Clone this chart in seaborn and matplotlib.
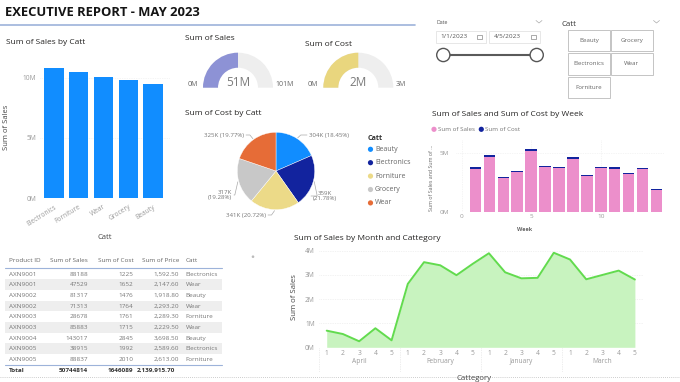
import numpy as np
import pandas as pd
import seaborn as sns
import matplotlib.pyplot as plt
from matplotlib import font_manager
from matplotlib.patches import Wedge, Rectangle, Circle

# ---- values ----
catt_order = ['Electronics', 'Forniture', 'Wear', 'Grocery', 'Beauty']
catt_sales = [10.85e6, 10.50e6, 10.05e6, 9.85e6, 9.50e6]

pie_catt = ['Beauty', 'Electronics', 'Forniture', 'Grocery', 'Wear']
pie_cost = [303703, 358518, 341070, 317366, 325432]

total_sales = 50744814
total_cost = 1646089
total_price = 2139915.70

weeks = list(range(1, 15))
week_sales = [3.68e6, 4.71e6, 2.86e6, 3.40e6, 5.18e6, 3.80e6, 3.74e6,
              4.51e6, 3.02e6, 3.74e6, 3.68e6, 3.19e6, 3.65e6, 1.90e6]
week_cost = [0.12e6, 0.15e6, 0.09e6, 0.11e6, 0.17e6, 0.12e6, 0.12e6,
             0.15e6, 0.10e6, 0.12e6, 0.12e6, 0.10e6, 0.12e6, 0.08e6]

months = ['April', 'February', 'January', 'March']
month_weeks = [1, 2, 3, 4, 5]
april_sales = [0.69e6, 0.55e6, 0.25e6, 0.79e6, 0.29e6]
february_sales = [2.63e6, 3.53e6, 3.40e6, 2.99e6, 3.46e6]
january_sales = [3.90e6, 3.11e6, 2.86e6, 2.88e6, 3.92e6]
march_sales = [3.64e6, 2.82e6, 3.00e6, 3.18e6, 2.81e6]

tbl_id = ['AXN9001', 'AXN9001', 'AXN9002', 'AXN9002', 'AXN9003',
          'AXN9003', 'AXN9004', 'AXN9005', 'AXN9005']
tbl_sales = [88188, 47529, 81317, 71313, 28678, 85883, 143017, 38915, 88837]
tbl_cost = [1225, 1652, 1476, 1764, 1761, 1715, 2845, 1992, 2010]
tbl_price = [1592.50, 2147.60, 1918.80, 2293.20, 2289.30, 2229.50, 3698.50, 2589.60, 2613.00]
tbl_catt = ['Electronics', 'Wear', 'Beauty', 'Wear', 'Forniture',
            'Wear', 'Beauty', 'Electronics', 'Forniture']

date_start = '1/1/2023'
date_end = '4/5/2023'
slicer_catt = ['Beauty', 'Grocery', 'Electronics', 'Wear', 'Forniture']

# ---- style ----
sns.set_theme(style='white')
plt.rcParams['font.family'] = ['Open Sans', 'DejaVu Sans']
names = {f.name for f in font_manager.fontManager.ttflist}
title_font = 'Liberation Sans Narrow' if 'Liberation Sans Narrow' in names else 'Open Sans'

pie_colors = ['#118DFF', '#12239E', '#ECDA88', '#C8C8C8', '#E66C37']
C_TITLE = '#252423'
C_AX = '#454545'
C_TICK = '#9A9A9A'
C_LINE = '#9DB3DA'

W, H = 680, 382
fig = plt.figure(figsize=(6.8, 3.82), dpi=100)


def box(x0, y0, x1, y1):
    return [x0 / W, 1 - y1 / H, (x1 - x0) / W, (y1 - y0) / H]


def fmt_m(v):
    return f'{v / 1e6:.0f}M'


def clean(ax):
    for s in ax.spines.values():
        s.set_visible(False)
    ax.set_facecolor('none')


# background layer in pixel coordinates (y down)
bg = fig.add_axes([0, 0, 1, 1])
bg.set_xlim(0, W)
bg.set_ylim(H, 0)
bg.axis('off')

bg.text(5, 12, 'EXECUTIVE REPORT - MAY 2023', family=title_font, fontsize=9.4,
        fontweight='bold', va='center', color='#141414')
bg.plot([0, 415], [25, 25], color=C_LINE, lw=1.2)

for tx, ty, t in [(6, 42, 'Sum of Sales by Catt'), (185, 38, 'Sum of Sales'),
                  (305, 44.5, 'Sum of Cost'), (185, 113.5, 'Sum of Cost by Catt'),
                  (432, 114, 'Sum of Sales and Sum of Cost by Week'),
                  (294, 238.5, 'Sum of Sales by Month and Cattegory')]:
    bg.text(tx, ty, t, fontsize=6.0, va='center', color=C_TITLE)

# ---- bar chart: sales by category ----
ax1 = fig.add_axes(box(40, 60, 170, 198))
df_c = pd.DataFrame({'Catt': catt_order, 'Sales': catt_sales})
sns.barplot(data=df_c, x='Catt', y='Sales', color='#118DFF', saturation=1,
            width=0.78, errorbar=None, linewidth=0, ax=ax1)
ax1.set_xlim(-0.57, 4.69)
ax1.set_ylim(0, 11.5e6)
ax1.set_yticks([0, 5e6, 10e6])
ax1.set_yticklabels([fmt_m(v) for v in [0, 5e6, 10e6]])
ax1.tick_params(axis='y', labelsize=4.8, colors=C_TICK, length=0, pad=2.5)
ax1.tick_params(axis='x', labelsize=4.8, colors=C_TICK, length=0, pad=4)
plt.setp(ax1.get_xticklabels(), rotation=32, ha='right', rotation_mode='anchor')
ax1.grid(axis='y', color='#EBEBEB', lw=0.5, ls=(0, (1, 1.5)))
ax1.set_axisbelow(True)
ax1.set_xlabel('Catt', fontsize=5.5, color=C_AX)
ax1.set_ylabel('Sum of Sales', fontsize=5.5, color=C_AX)
ax1.xaxis.set_label_coords(0.5, -0.26)
ax1.yaxis.set_label_coords(-0.23, 0.51)
clean(ax1)

# ---- gauges ----
def gauge(cx, value, vmax, color):
    cy = 87.7
    bg.add_patch(Wedge((cx, cy), 35, 180, 360, width=15, facecolor='#EEEEEE', lw=0))
    bg.add_patch(Wedge((cx, cy), 35, 180, 180 + 180 * value / vmax, width=15,
                       facecolor=color, lw=0))
    bg.text(cx, cy - 5.5, fmt_m(value), ha='center', va='center', fontsize=8.5, color='#7A7A7A')
    bg.text(cx - 40.5, cy - 3, '0M', ha='right', va='center', fontsize=5, color='#666666')
    bg.text(cx + 37, cy - 3, fmt_m(vmax), ha='left', va='center', fontsize=5, color='#666666')


gauge(238, total_sales, 2 * total_sales, '#8D92D5')
gauge(358.3, total_cost, 2 * total_cost, '#E9D67E')

# ---- pie: cost by category ----
pcx, pcy, pr = 276, 171, 38.7
axp = fig.add_axes(box(pcx - pr, pcy - pr, pcx + pr, pcy + pr))
axp.pie(pie_cost, colors=pie_colors, startangle=90, counterclock=False,
        wedgeprops=dict(linewidth=0.3, edgecolor='white'))
axp.set_xlim(-1, 1)
axp.set_ylim(-1, 1)
axp.set_aspect('equal')

pie_total = sum(pie_cost)
lbl_pos = [(309, 135, 'left'), (313, 196, 'left'), (266, 215, 'right'),
           (232, 195, 'right'), (244, 135, 'right')]
cum = 0
for v, (lx, ly, ha) in zip(pie_cost, lbl_pos):
    frac = v / pie_total
    ang = np.deg2rad(90 - 360 * (cum + frac / 2))
    cum += frac
    ex, ey = pcx + (pr + 1) * np.cos(ang), pcy - (pr + 1) * np.sin(ang)
    sgn = 1 if ha == 'left' else -1
    bg.plot([ex, ex + sgn * 3, lx - sgn * 2], [ey, ly, ly], color='#AAAAAA', lw=0.5)
    txt = f'{v / 1e3:.0f}K ({frac * 100:.2f}%)'
    if abs(np.cos(ang)) > 0.9:
        txt = txt.replace(' (', '\n(')
    bg.text(lx, ly, txt, ha=ha, va='center', fontsize=4.4, color='#777777',
            multialignment='center' if ha == 'left' else 'right', linespacing=1.2)

bg.text(367.5, 138.3, 'Catt', fontsize=5.2, fontweight='bold', va='center', color='#333333')
for i, (name, col) in enumerate(zip(pie_catt, pie_colors)):
    y = 149.3 + i * 13.4
    bg.add_patch(Circle((370.5, y), 2.6, color=col, lw=0))
    bg.text(375, y, name, va='center', fontsize=5, color='#666666')

# ---- slicers ----
bg.text(436.5, 23, 'Date', fontsize=3.8, va='center', color='#555555')
for chx in (539, 656.5):
    bg.plot([chx - 3, chx, chx + 3], [20.5, 23, 20.5], color='#AAAAAA', lw=0.5)
for x0, x1, d in [(435.7, 486, date_start), (488.5, 540, date_end)]:
    bg.add_patch(Rectangle((x0, 30.7), x1 - x0, 12.6, facecolor='white',
                           edgecolor='#E3E3E3', lw=0.6))
    bg.text(x0 + 5, 37, d, fontsize=4.6, va='center', color='#555555')
    bg.add_patch(Rectangle((x1 - 9, 34.5), 4.5, 4.2, facecolor='none',
                           edgecolor='#888888', lw=0.5))
bg.plot([443.3, 536.7], [55, 55], color='#5A5A5A', lw=1.5, zorder=2)
for sx in (443.3, 536.7):
    bg.add_patch(Circle((sx, 55), 6.6, facecolor='white', edgecolor='#555555', lw=1, zorder=3))

bg.text(561.5, 24.3, 'Catt', fontsize=5.6, va='center', color='#333333')
btn_cells = [(568.3, 30), (611, 30), (568.3, 53.3), (611, 53.3), (568.3, 77)]
for (bx, by), name in zip(btn_cells, slicer_catt):
    bg.add_patch(Rectangle((bx, by), 41.7, 21.3, facecolor='white', edgecolor='#C4C4C4', lw=0.7))
    bg.text(bx + 20.85, by + 10.65, name, ha='center', va='center', fontsize=4.4, color='#666666')

# ---- week chart: stacked sales + cost ----
bg.add_patch(Circle((434, 129.3), 2.6, color='#EC8FCB', lw=0))
bg.text(437.5, 129.3, 'Sum of Sales', fontsize=4.5, va='center', color='#777777')
bg.add_patch(Circle((481.3, 129.3), 2.6, color='#12239E', lw=0))
bg.text(485, 129.3, 'Sum of Cost', fontsize=4.5, va='center', color='#777777')

axw = fig.add_axes(box(456, 140, 664, 211.7))
df_w = pd.DataFrame({'Week': weeks, 'Sales': week_sales, 'Cost': week_cost})
df_w['Total'] = df_w['Sales'] + df_w['Cost']
sns.barplot(data=df_w, x='Week', y='Total', native_scale=True, color='#12239E',
            saturation=1, width=0.84, errorbar=None, linewidth=0, ax=axw)
sns.barplot(data=df_w, x='Week', y='Sales', native_scale=True, color='#EC8FCB',
            saturation=1, width=0.84, errorbar=None, linewidth=0, ax=axw)
axw.set_xlim(-0.41, 14.55)
axw.set_ylim(0, 6.14e6)
axw.set_xticks([0, 5, 10])
axw.set_xticklabels(['0', '5', '10'])
axw.set_yticks([0, 5e6])
axw.set_yticklabels(['0M', '5M'])
axw.tick_params(axis='y', labelsize=4.6, colors=C_TICK, length=0, pad=5)
axw.tick_params(axis='x', labelsize=4.6, colors=C_TICK, length=0, pad=1.8)
axw.grid(True, color='#EBEBEB', lw=0.5, ls=(0, (1, 1.5)))
axw.set_axisbelow(True)
axw.set_xlabel('Week', fontsize=4, fontweight='bold', color='#666666')
axw.set_ylabel('Sum of Sales and Sum of ...', fontsize=3.8, color='#666666')
axw.xaxis.set_label_coords(0.33, -0.21)
axw.yaxis.set_label_coords(-0.105, 0.47)
clean(axw)

# ---- area chart: sales by month and week ----
df_m = pd.DataFrame({
    'Month': np.repeat(months, len(month_weeks)),
    'Week': month_weeks * len(months),
    'Sales': april_sales + february_sales + january_sales + march_sales,
})
df_m['pos'] = np.arange(len(df_m))

axa = fig.add_axes(box(318.6, 246, 643, 347.3))
axa.fill_between(df_m['pos'], df_m['Sales'], color='#C8F3BF', lw=0)
sns.lineplot(data=df_m, x='pos', y='Sales', color='#62DB4E', lw=1.4, errorbar=None, ax=axa)
axa.set_xlim(-0.5, len(df_m) - 0.5)
axa.set_ylim(0, 4.2e6)
axa.set_yticks([0, 1e6, 2e6, 3e6, 4e6])
axa.set_yticklabels([fmt_m(v) for v in [0, 1e6, 2e6, 3e6, 4e6]])
axa.set_xticks(df_m['pos'])
axa.set_xticklabels(df_m['Week'].astype(str))
axa.tick_params(axis='y', labelsize=4.8, colors=C_TICK, length=0, pad=2.6)
axa.tick_params(axis='x', labelsize=4.8, colors=C_TICK, length=0, pad=1.6)
axa.grid(axis='y', color='#E6E6E6', lw=0.5, ls=(0, (1, 1.5)))
axa.set_axisbelow(True)
axa.set_xlabel('Cattegory', fontsize=5.6, color=C_AX)
axa.set_ylabel('Sum of Sales', fontsize=5.6, color=C_AX)
axa.xaxis.set_label_coords(0.48, -0.27)
axa.yaxis.set_label_coords(-0.062, 0.5)
trans = axa.get_xaxis_transform()
n = len(month_weeks)
for i, m in enumerate(months):
    axa.text(i * n + (n - 1) / 2, -0.145, m, transform=trans, ha='center', va='center',
             fontsize=4.8, color=C_TICK, clip_on=False)
    axa.plot([i * n - 0.5] * 2, [-0.01, -0.245], transform=trans, color='#DDDDDD',
             lw=0.5, ls=(0, (1, 1.5)), clip_on=False)
clean(axa)

# ---- table ----
hy = 260
bg.text(9, hy, 'Product ID', fontsize=4.6, va='center', color='#666666')
bg.text(88, hy, 'Sum of Sales', fontsize=4.6, va='center', ha='right', color='#666666')
bg.text(133.3, hy, 'Sum of Cost', fontsize=4.6, va='center', ha='right', color='#666666')
bg.text(179, hy, 'Sum of Price', fontsize=4.6, va='center', ha='right', color='#666666')
bg.text(185.5, hy, 'Catt', fontsize=4.6, va='center', color='#666666')
bg.plot([5, 222], [268.3, 268.3], color=C_LINE, lw=0.8)

row_h = 10.67
for i in range(len(tbl_id)):
    ry = 274 + i * row_h
    if i % 2 == 1:
        bg.add_patch(Rectangle((5, ry - row_h / 2), 217, row_h, facecolor='#EEEEEE', lw=0))
    bg.text(9, ry, tbl_id[i], fontsize=4.6, va='center', color='#777777')
    bg.text(88, ry, f'{tbl_sales[i]}', fontsize=4.6, va='center', ha='right', color='#777777')
    bg.text(133.3, ry, f'{tbl_cost[i]}', fontsize=4.6, va='center', ha='right', color='#777777')
    bg.text(179, ry, f'{tbl_price[i]:,.2f}', fontsize=4.6, va='center', ha='right', color='#777777')
    bg.text(185.5, ry, tbl_catt[i], fontsize=4.6, va='center', color='#777777')

bg.plot([5, 222], [365, 365], color=C_LINE, lw=0.8)
ty = 370
bg.text(9, ty, 'Total', fontsize=4.6, va='center', fontweight='bold', color='#333333')
bg.text(88, ty, f'{total_sales}', fontsize=4.6, va='center', ha='right', fontweight='bold', color='#333333')
bg.text(133.3, ty, f'{total_cost}', fontsize=4.6, va='center', ha='right', fontweight='bold', color='#333333')
bg.text(137, ty, f'{total_price:,.2f}', fontsize=4.6, va='center', ha='left', fontweight='bold', color='#333333')

bg.plot([0, W], [377, 377], color='#BDBDBD', lw=0.6, ls=(0, (1, 1.5)))
bg.add_patch(Circle((253, 256.7), 1.3, color='#BBBBBB', lw=0))

fig.savefig('out.png', dpi=100)
